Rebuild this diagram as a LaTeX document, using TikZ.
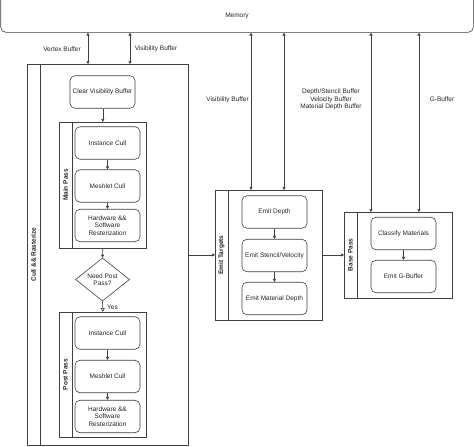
\documentclass[tikz,border=0pt]{standalone}
\usepackage{fontspec}
\setmainfont{Liberation Sans}
\usetikzlibrary{arrows.meta,shapes.geometric}
\begin{document}
\begin{tikzpicture}[x=1pt,y=-1pt,
  every node/.style={font=\fontsize{6.5}{7.5}\selectfont, text=black!85},
  ln/.style={draw=black!75, line width=0.6pt},
  proc/.style={ln, rounded corners=5pt, minimum width=65pt, minimum height=32.5pt, align=center, inner sep=1pt},
  cont/.style={ln, rectangle, anchor=north west, inner sep=0pt},
  hdr/.style={rotate=90, font=\fontsize{6.5}{7.5}\selectfont\bfseries},
  arr/.style={ln, -{Triangle[length=3pt,width=3pt]}},
  biarr/.style={ln, {Triangle[length=3pt,width=3pt]}-{Triangle[length=3pt,width=3pt]}},
  openarr/.style={ln, -{Triangle[open,length=4pt,width=4pt,fill=white]}},
  lbl/.style={align=center, inner sep=0pt}
]
\clip (0,0) rectangle (474,447);
\fill[white] (0,0) rectangle (474,447);

% Memory
\node[ln, rounded corners=5pt, anchor=north west, minimum width=472.5pt, minimum height=42pt, inner sep=0pt] (mem) at (0.5,-10) {};
\node (memt) at (237,16) {Memory};

% Cull && Rasterize
\node[cont, minimum width=161pt, minimum height=381pt] (cull) at (27,64) {};
\draw[ln] ([xshift=13pt]cull.north west) -- ([xshift=13pt]cull.south west);
\node[hdr] (cullh) at (33.5,254.5) {Cull \&\& Rasterize};

\node[proc] (clear) at (102.5,92) {Clear Visibility Buffer};

% Main pass
\node[cont, minimum width=87pt, minimum height=126pt] (main) at (59,122) {};
\draw[ln] ([xshift=13pt]main.north west) -- ([xshift=13pt]main.south west);
\node[hdr] (mainh) at (65.5,185) {Main Pass};
\node[proc] (mi) at (107.5,143) {Instance Cull};
\node[proc] (mm) at (107.5,186) {Meshlet Cull};
\node[proc] (mh) at (107.5,225.5) {Hardware \&\&\\Software\\Resterization};

% Decision
\node[ln, diamond, minimum width=54pt, minimum height=43pt, inner sep=0pt, align=center] (need) at (102.5,279.5) {Need Post\\Pass?};

% Post pass
\node[cont, minimum width=87pt, minimum height=125pt] (post) at (59,312) {};
\draw[ln] ([xshift=13pt]post.north west) -- ([xshift=13pt]post.south west);
\node[hdr] (posth) at (65.5,374.5) {Post Pass};
\node[proc] (pi) at (107.5,333) {Instance Cull};
\node[proc] (pm) at (107.5,376.5) {Meshlet Cull};
\node[proc] (ph) at (107.5,416.5) {Hardware \&\&\\Software\\Resterization};

% Emit targets
\node[cont, minimum width=107pt, minimum height=130pt] (emit) at (215,190) {};
\draw[ln] ([xshift=13pt]emit.north west) -- ([xshift=13pt]emit.south west);
\node[hdr] (emith) at (221.5,255) {Emit Targets};
\node[proc] (ed) at (274.5,212) {Emit Depth};
\node[proc] (es) at (274.5,255.5) {Emit Stencil/Velocity};
\node[proc] (em) at (274.5,298.5) {Emit Material Depth};

% Base pass
\node[cont, minimum width=108pt, minimum height=86pt] (base) at (344,212) {};
\draw[ln] ([xshift=13pt]base.north west) -- ([xshift=13pt]base.south west);
\node[hdr] (baseh) at (350.5,255) {Base Pass};
\node[proc] (cm) at (403.5,233.5) {Classify Materials};
\node[proc] (eg) at (403.5,276.5) {Emit G-Buffer};

% Memory connectors
\draw[biarr] (mem.south -| 88,0) -- (cull.north -| 88,0);
\draw[biarr] (mem.south -| 130,0) -- (cull.north -| 130,0);
\draw[biarr] (mem.south -| 251,0) -- (emit.north -| 251,0);
\draw[biarr] (mem.south -| 284,0) -- (emit.north -| 284,0);
\draw[biarr] (mem.south -| 371,0) -- (base.north -| 371,0);
\draw[biarr] (mem.south -| 419,0) -- (base.north -| 419,0);

\node[lbl] (l1) at (62,49) {Vertex Buffer};
\node[lbl] (l2) at (156,49) {Visibility Buffer};
\node[lbl] (l3) at (227.5,100) {Visibility Buffer};
\node[lbl] (l4) at (331,99.5) {Depth/Stencil Buffer\\Velocity Buffer\\Material Depth Buffer};
\node[lbl] (l5) at (442,99.5) {G-Buffer};

% Internal flow
\draw[arr] (clear.south -| main.north) -- (main.north);
\draw[arr] (mi) -- (mm);
\draw[arr] (mm) -- (mh);
\draw[arr] (main.south) -- (need.north);
\draw[openarr] (need.south) -- (post.north);
\node[anchor=west, inner sep=0pt] (yes) at (107,307.5) {Yes};
\draw[arr] (pi) -- (pm);
\draw[arr] (pm) -- (ph);
\draw[arr] (ed) -- (es);
\draw[arr] (es) -- (em);
\draw[arr] (cm) -- (eg);

\draw[arr] (cull.east |- 0,255) -- (emit.west |- 0,255);
\draw[arr] (emit.east |- 0,255) -- (base.west |- 0,255);
\end{tikzpicture}
\end{document}
